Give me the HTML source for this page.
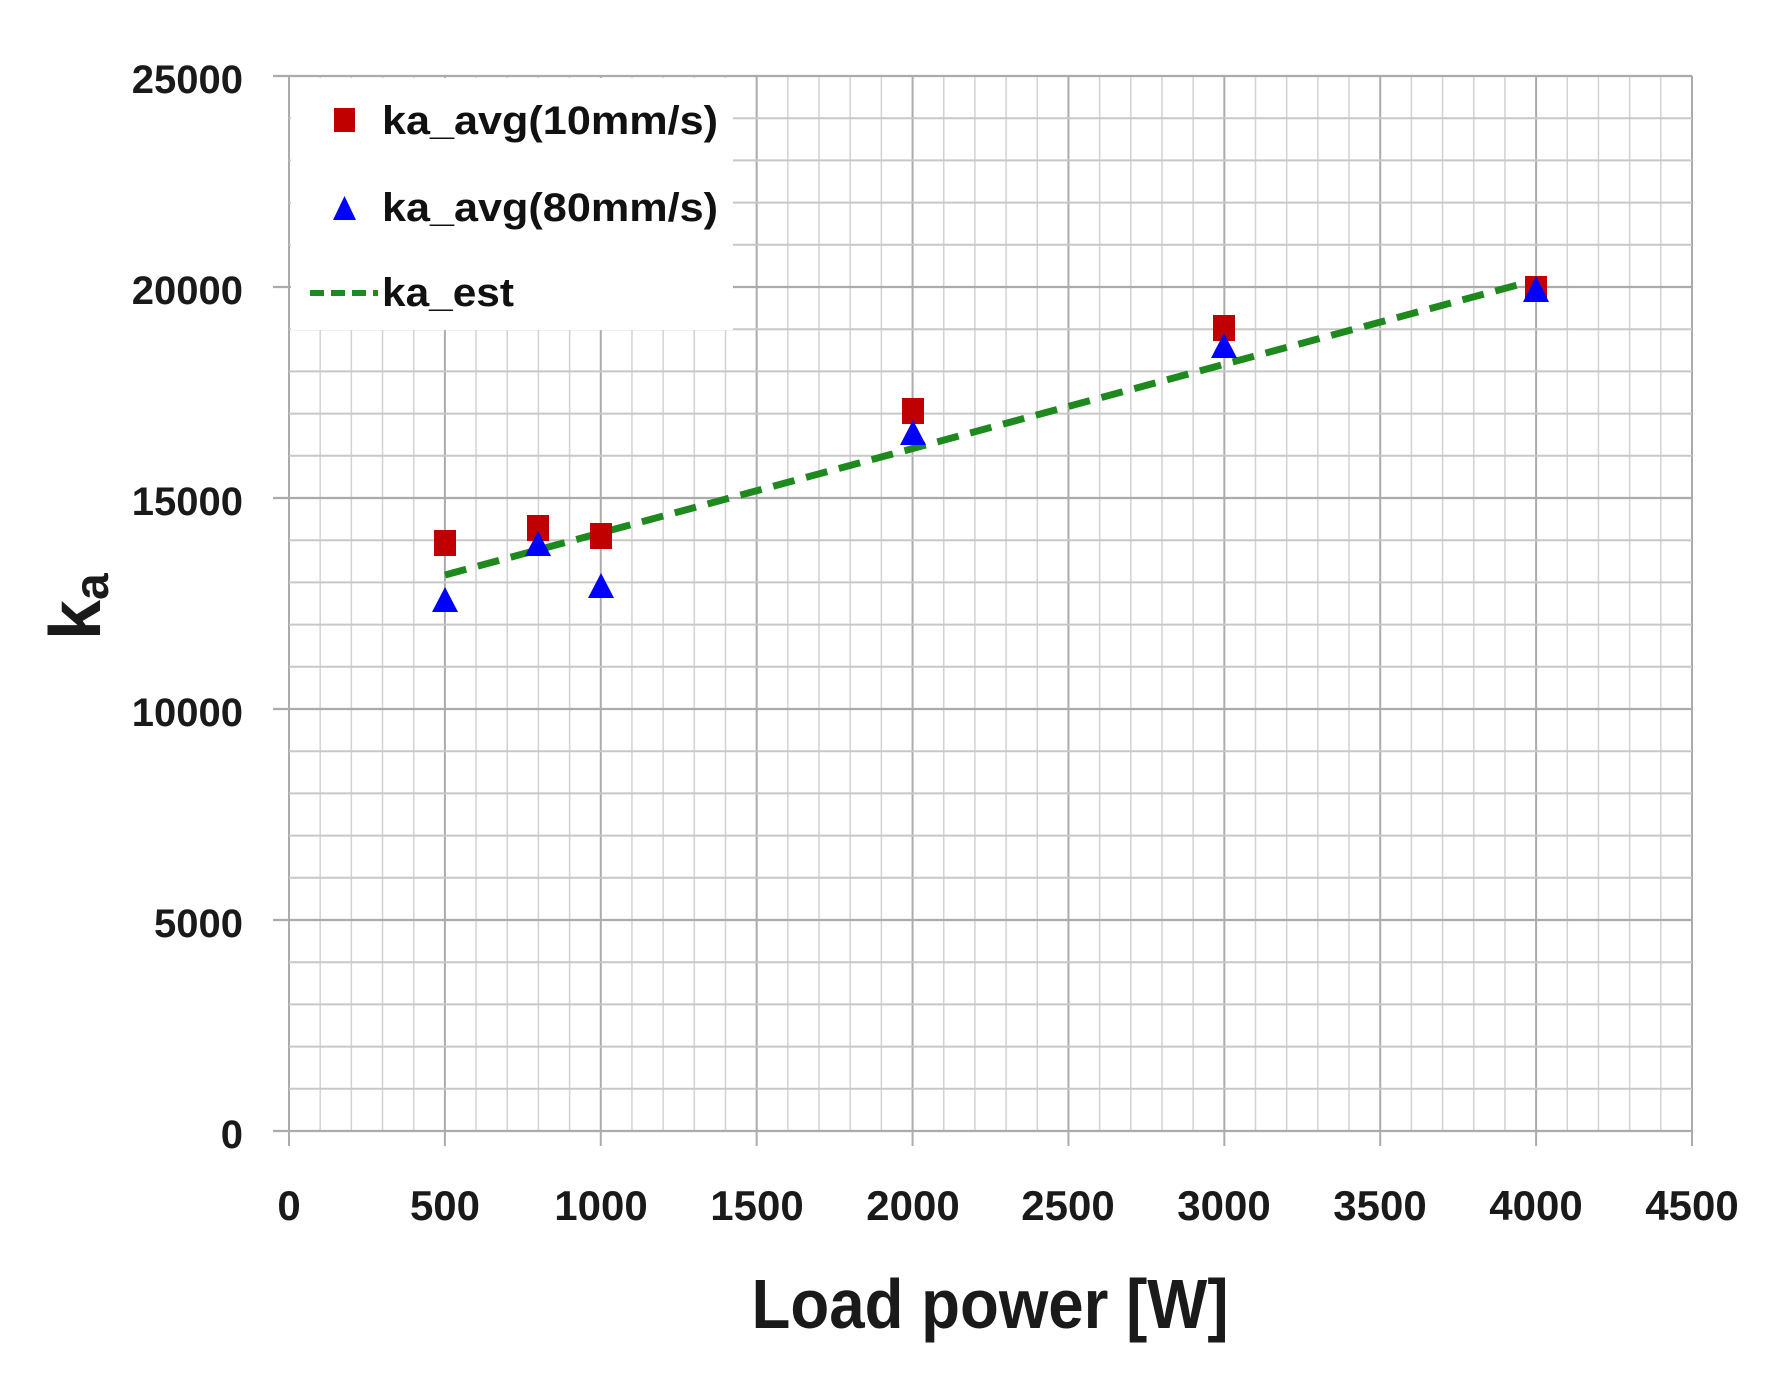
<!DOCTYPE html>
<html><head><meta charset="utf-8"><style>html,body{margin:0;padding:0;background:#fff}svg{display:block}</style></head>
<body>
<svg xmlns="http://www.w3.org/2000/svg" width="1771" height="1380" viewBox="0 0 1771 1380">
<rect width="1771" height="1380" fill="#fff"/>
<g id="grid"></g>
<script>
(function(){
var g=document.getElementById('grid'),ns='http://www.w3.org/2000/svg';
function L(x1,y1,x2,y2,c,w){var l=document.createElementNS(ns,'line');l.setAttribute('x1',x1);l.setAttribute('y1',y1);l.setAttribute('x2',x2);l.setAttribute('y2',y2);l.setAttribute('stroke',c);l.setAttribute('stroke-width',w);g.appendChild(l);}
var X0=289,X1=1692,Y0=1131,Y1=76;
for(var i=0;i<=45;i++){var x=X0+i*(X1-X0)/45;var maj=(i%5==0);L(x,Y1,x,maj?1146:Y0,maj?'#ababab':'#d2d2d2',maj?2:1.5);}
for(var j=0;j<=25;j++){var y=Y0-j*(Y0-Y1)/25;var maj=(j%5==0);L(maj?273:X0,y,X1,y,maj?'#ababab':'#c8c8c8',maj?2.2:2);}
})();
</script>
<rect x="291" y="78" width="442" height="252" fill="#fff"/>
<g font-family="Liberation Sans, sans-serif" font-weight="bold" fill="#1a1a1a">
<g font-size="40" text-anchor="end" font-weight="600">
<text x="243" y="93">25000</text>
<text x="243" y="304">20000</text>
<text x="243" y="515">15000</text>
<text x="243" y="726">10000</text>
<text x="243" y="937">5000</text>
<text x="243" y="1148">0</text>
</g>
<g font-size="42" text-anchor="middle" font-weight="600">
<text x="289" y="1220">0</text>
<text x="445" y="1220">500</text>
<text x="601" y="1220">1000</text>
<text x="757" y="1220">1500</text>
<text x="913" y="1220">2000</text>
<text x="1068" y="1220">2500</text>
<text x="1224" y="1220">3000</text>
<text x="1380" y="1220">3500</text>
<text x="1536" y="1220">4000</text>
<text x="1692" y="1220">4500</text>
</g>
<text x="990" y="1328" font-size="70" text-anchor="middle" textLength="477" lengthAdjust="spacingAndGlyphs">Load power [W]</text>
<g transform="translate(100,640) rotate(-90)">
<text x="0" y="0" font-size="72">k<tspan font-size="48" dy="8">a</tspan></text>
</g>
<g font-size="40" fill="#111">
<text x="382" y="134" textLength="336" lengthAdjust="spacingAndGlyphs">ka_avg(10mm/s)</text>
<text x="382" y="221" textLength="336" lengthAdjust="spacingAndGlyphs">ka_avg(80mm/s)</text>
<text x="382" y="306" textLength="132" lengthAdjust="spacingAndGlyphs">ka_est</text>
</g>
</g>
<rect x="334" y="108" width="21" height="24" fill="#c00000"/>
<polygon points="344.5,196 333,220 356,220" fill="#0000ff"/>
<line x1="310" y1="293" x2="378" y2="293" stroke="#1e8a1e" stroke-width="6" stroke-dasharray="14,7"/>
<line x1="445" y1="575" x2="1536" y2="280" stroke="#1e8a1e" stroke-width="7" stroke-dasharray="22,12"/>
<g fill="#c00000">
<rect x="434" y="530" width="22" height="26"/>
<rect x="527" y="515" width="22" height="26"/>
<rect x="590" y="523" width="22" height="26"/>
<rect x="902" y="398" width="22" height="26"/>
<rect x="1213" y="315" width="22" height="26"/>
<rect x="1525" y="276" width="22" height="26"/>
</g>
<g fill="#0000ff">
<polygon points="445,587 432,612 458,612"/>
<polygon points="538,531 525,556 551,556"/>
<polygon points="601,573 588,598 614,598"/>
<polygon points="913,420 900,445 926,445"/>
<polygon points="1224,333 1211,358 1237,358"/>
<polygon points="1536,276 1523,302 1549,302"/>
</g>
</svg>
</body></html>
